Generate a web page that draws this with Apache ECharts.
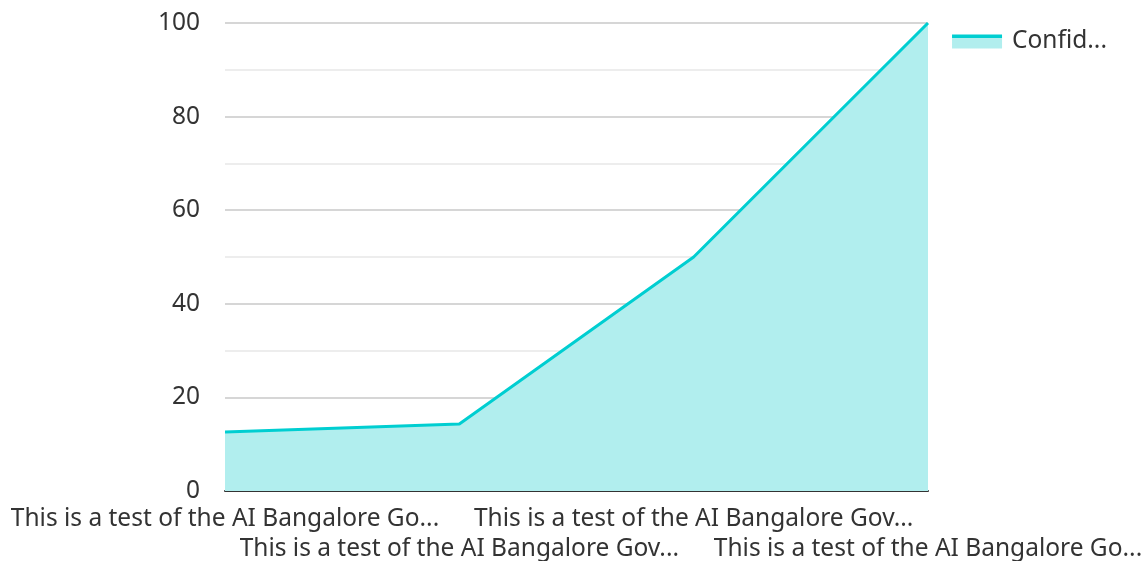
<!DOCTYPE html>
<html>
<head>
<meta charset="utf-8">
<script src="https://cdn.jsdelivr.net/npm/echarts@6/dist/echarts.min.js"></script>
<style>
  html, body { margin: 0; padding: 0; background: #fff; }
  #chart { width: 1146px; height: 561px; }
</style>
</head>
<body>
<div id="chart"></div>
<script>
const categories = [
  'This is a test of the AI Bangalore Go...',
  'This is a test of the AI Bangalore Gov...',
  'This is a test of the AI Bangalore Gov...',
  'This is a test of the AI Bangalore Go...'
]
const seriesName = 'Confidence Score'
const values = [12.6, 14.3, 50, 100]
const yTicks = { min: 0, max: 100, interval: 20 }

const chart = echarts.init(document.getElementById('chart'))
const font = '"Noto Sans", sans-serif'

// legend swatch: thin line on top of the pale area colour
const swatch = new echarts.graphic.LinearGradient(0, 0, 0, 1, [
  { offset: 0, color: '#00ced1' },
  { offset: 0.25, color: '#00ced1' },
  { offset: 0.25, color: '#b1eeee' },
  { offset: 1, color: '#b1eeee' }
])

chart.setOption({
  animation: false,
  textStyle: { fontFamily: font },
  grid: { left: 225, right: 218, top: 23, bottom: 70, outerBoundsMode: 'none', containLabel: false },
  legend: {
    right: 34,
    top: 24,
    icon: 'rect',
    itemWidth: 50,
    itemHeight: 14,
    itemGap: 10,
    itemStyle: { color: swatch },
    textStyle: { fontSize: 24.5, color: '#333', fontFamily: font, width: 100, overflow: 'truncate', ellipsis: '...', padding: [0, 0, 0, 5] },
    data: [seriesName]
  },
  tooltip: { show: false },
  xAxis: {
    type: 'category',
    boundaryGap: false,
    data: categories,
    axisLine: { lineStyle: { color: '#333', width: 2 } },
    axisTick: { show: false },
    axisLabel: {
      interval: 0,
      fontSize: 24.5,
      color: '#333',
      lineHeight: 30,
      margin: 13,
      formatter: (v, i) => (i % 2 ? '\n' + v : v)
    }
  },
  yAxis: {
    type: 'value',
    min: yTicks.min,
    max: yTicks.max,
    interval: yTicks.interval,
    axisLine: { show: false },
    axisTick: { show: false },
    axisLabel: { fontSize: 24.5, color: '#333', margin: 25 },
    splitLine: { lineStyle: { color: '#c8c8c8', width: 1.5 } },
    minorTick: { show: false, splitNumber: 2 },
    minorSplitLine: { show: true, lineStyle: { color: '#e8e8e8', width: 1.5 } }
  },
  series: [{
    name: seriesName,
    type: 'line',
    data: values,
    symbol: 'none',
    lineStyle: { color: '#00ced1', width: 3 },
    itemStyle: { color: '#00ced1' },
    areaStyle: { color: '#b1eeee', opacity: 1 }
  }]
})
</script>
</body>
</html>
